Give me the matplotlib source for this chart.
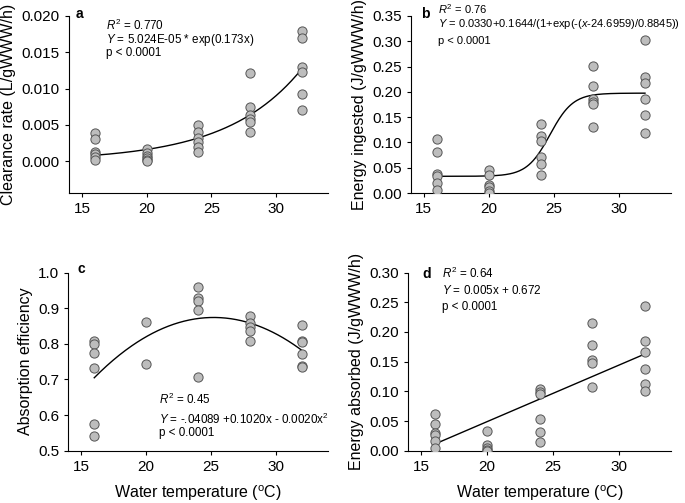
import numpy as np
import matplotlib.pyplot as plt

plt.rcParams["font.family"] = ["Liberation Sans", "DejaVu Sans"]
plt.rcParams["mathtext.fontset"] = "custom"
plt.rcParams["mathtext.rm"] = "Liberation Sans"
plt.rcParams["mathtext.it"] = "Liberation Sans:italic"

# ── Data ──
temps = [16, 20, 24, 28, 32]

clearance = {
    16: [0.0039, 0.0030, 0.0013, 0.0010, 0.0006, 0.0002],
    20: [0.0016, 0.0011, 0.0007, 0.0004, 0.0001, 0.0000],
    24: [0.0050, 0.0040, 0.0032, 0.0026, 0.0020, 0.0013],
    28: [0.0122, 0.0075, 0.0063, 0.0058, 0.0054, 0.0040],
    32: [0.0179, 0.0170, 0.0130, 0.0123, 0.0092, 0.0070],
}
energy_ingested = {
    16: [0.107, 0.082, 0.038, 0.033, 0.020, 0.006],
    20: [0.045, 0.036, 0.016, 0.011, 0.003, 0.000],
    24: [0.136, 0.113, 0.103, 0.072, 0.057, 0.035],
    28: [0.252, 0.212, 0.185, 0.180, 0.175, 0.130],
    32: [0.302, 0.230, 0.218, 0.186, 0.154, 0.118],
}
absorption = {
    16: [0.808, 0.799, 0.773, 0.733, 0.576, 0.541],
    20: [0.860, 0.743],
    24: [0.960, 0.928, 0.920, 0.894, 0.707],
    28: [0.878, 0.858, 0.848, 0.836, 0.809],
    32: [0.852, 0.809, 0.806, 0.771, 0.738, 0.734],
}
energy_absorbed = {
    16: [0.062, 0.045, 0.030, 0.027, 0.017, 0.005],
    20: [0.034, 0.009, 0.005, 0.002, 0.000],
    24: [0.1045, 0.0994, 0.096, 0.053, 0.032, 0.014],
    28: [0.215, 0.1775, 0.153, 0.148, 0.108],
    32: [0.244, 0.185, 0.167, 0.137, 0.113, 0.101],
}

# fitted curves (coefficients as drawn)
exp_a, exp_b = 5.024e-05, 0.173
sig_y0, sig_a, sig_x0, sig_b = 0.0330, 0.1644, 24.6959, 0.8845
quad_c = [-0.0020, 0.1008, -0.396]
lin_c = [0.0095, -0.141]

# annotation text per panel
ann_a = ["$R^2$ = 0.770", "$Y$ = 5.024E-05 * exp(0.173x)", "p < 0.0001"]
ann_b = ["$R^2$ = 0.76", "$Y$ = 0.0330+0.1644/(1+exp(-($x$-24.6959)/0.8845))", "p < 0.0001"]
ann_c = ["$R^2$ = 0.45", "$Y$ = -.04089 +0.1020x - 0.0020x$^2$", "p < 0.0001"]
ann_d = ["$R^2$ = 0.64", "$Y$ = 0.005x + 0.672", "p < 0.0001"]

xfit = np.linspace(16, 32, 200)

MARKER = dict(s=44, facecolor="#bdbdbd", edgecolor="#555555", linewidths=0.7, zorder=3)
LABEL_FS = 11.5
ANN_FS = 8.4


def scatter_groups(ax, groups):
    for t in temps:
        ys = groups[t]
        ax.scatter([t] * len(ys), ys, **MARKER)


def style(ax):
    ax.spines["top"].set_visible(False)
    ax.spines["right"].set_visible(False)
    ax.tick_params(direction="out", length=3, width=0.8, labelsize=11)
    ax.set_xlim(14, 34)
    ax.set_xticks([15, 20, 25, 30])


def annotate(ax, lines, x, ys, fs=ANN_FS):
    for txt, y in zip(lines, ys):
        ax.text(x, y, txt, transform=ax.transAxes, fontsize=fs, va="center")


fig = plt.figure(figsize=(6.85, 5.03), dpi=100)
ax_a = fig.add_axes([0.1007, 0.6163, 0.378, 0.352])
ax_b = fig.add_axes([0.5996, 0.6163, 0.380, 0.352])
ax_c = fig.add_axes([0.0997, 0.104, 0.379, 0.354])
ax_d = fig.add_axes([0.596, 0.104, 0.384, 0.354])

# ── a ──
scatter_groups(ax_a, clearance)
ax_a.plot(xfit, exp_a * np.exp(exp_b * xfit), color="black", lw=1.0)
style(ax_a)
ax_a.set_ylim(-0.0044, 0.020)
ax_a.set_yticks([0.000, 0.005, 0.010, 0.015, 0.020])
ax_a.set_yticklabels(["0.000", "0.005", "0.010", "0.015", "0.020"])
ax_a.set_ylabel("Clearance rate (L/gWWW/h)", fontsize=LABEL_FS)
ax_a.text(0.027, 1.01, "a", transform=ax_a.transAxes, fontweight="bold", fontsize=10, va="center")
annotate(ax_a, ann_a, 0.143, [0.949, 0.864, 0.791])

# ── b ──
scatter_groups(ax_b, energy_ingested)
ax_b.plot(xfit, sig_y0 + sig_a / (1 + np.exp(-(xfit - sig_x0) / sig_b)), color="black", lw=1.0)
style(ax_b)
ax_b.set_ylim(0, 0.35)
ax_b.set_yticks(np.arange(0, 0.351, 0.05))
ax_b.set_yticklabels([f"{v:.2f}" for v in np.arange(0, 0.351, 0.05)])
ax_b.set_ylabel("Energy ingested (J/gWWW/h)", fontsize=LABEL_FS)
ax_b.text(0.04, 1.01, "b", transform=ax_b.transAxes, fontweight="bold", fontsize=10, va="center")
annotate(ax_b, ann_b, 0.105, [1.038, 0.953, 0.857], fs=8.0)

# ── c ──
scatter_groups(ax_c, absorption)
ax_c.plot(xfit, np.polyval(quad_c, xfit), color="black", lw=1.0)
style(ax_c)
ax_c.set_ylim(0.5, 1.0)
ax_c.set_yticks([0.5, 0.6, 0.7, 0.8, 0.9, 1.0])
ax_c.set_ylabel("Absorption efficiency", fontsize=LABEL_FS)
ax_c.set_xlabel(r"Water temperature ($^{\rm o}$C)", fontsize=LABEL_FS, labelpad=7)
ax_c.text(0.034, 1.02, "c", transform=ax_c.transAxes, fontweight="bold", fontsize=10, va="center")
annotate(ax_c, ann_c, 0.349, [0.290, 0.173, 0.100])

# ── d ──
scatter_groups(ax_d, energy_absorbed)
ax_d.plot(xfit, np.polyval(lin_c, xfit), color="black", lw=1.0)
style(ax_d)
ax_d.set_ylim(0, 0.30)
ax_d.set_yticks(np.arange(0, 0.301, 0.05))
ax_d.set_yticklabels([f"{v:.2f}" for v in np.arange(0, 0.301, 0.05)])
ax_d.set_ylabel("Energy absorbed (J/gWWW/h)", fontsize=LABEL_FS)
ax_d.set_xlabel(r"Water temperature ($^{\rm o}$C)", fontsize=LABEL_FS, labelpad=7)
ax_d.text(0.052, 0.993, "d", transform=ax_d.transAxes, fontweight="bold", fontsize=10, va="center")
annotate(ax_d, ann_d, 0.128, [0.993, 0.897, 0.808])

fig.savefig("out.png", dpi=100)
